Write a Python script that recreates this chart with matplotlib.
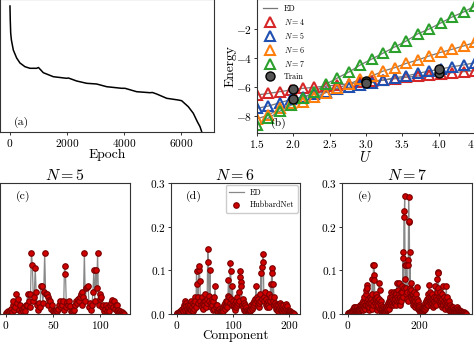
import numpy as np
import matplotlib
matplotlib.use("Agg")
import matplotlib.pyplot as plt

plt.rcParams['font.family'] = ['cmr10', 'DejaVu Serif']
plt.rcParams['mathtext.fontset'] = 'cm'
plt.rcParams['axes.formatter.use_mathtext'] = True
plt.rcParams['axes.unicode_minus'] = True

# ---------------- data ----------------
# (a) training curve
epoch = [0, 10, 25, 50, 117, 234, 351, 526, 702, 936, 1000, 1170, 1521, 1989, 2050,
         2340, 2691, 3042, 3393, 3920, 4036, 4446, 4914, 5000, 5148, 5500, 5907, 6024,
         6258, 6434, 6575, 6669, 6728, 6745]
loss = [1.26, 1.12, 0.99, 0.92, 0.82, 0.74, 0.69, 0.653, 0.637, 0.637, 0.645, 0.593,
        0.553, 0.537, 0.54, 0.51, 0.487, 0.48, 0.453, 0.437, 0.437, 0.403, 0.393, 0.395,
        0.38, 0.337, 0.32, 0.313, 0.253, 0.187, 0.103, 0.053, 0.003, -0.05]

# (b) energies vs U
U = np.linspace(1.5, 4.5, 20)
E4 = [-6.55, -6.44, -6.32, -6.2, -6.09, -6.02, -5.93, -5.86, -5.78, -5.68, -5.59,
      -5.52, -5.43, -5.33, -5.24, -5.17, -5.1, -5.01, -4.94, -4.87]
E5 = [-7.47, -7.31, -7.08, -6.85, -6.67, -6.48, -6.32, -6.16, -6.02, -5.86, -5.7,
      -5.52, -5.36, -5.24, -5.06, -4.9, -4.76, -4.6, -4.48, -4.32]
E6 = [-8.2, -7.93, -7.47, -7.13, -7.01, -6.71, -6.39, -6.09, -5.79, -5.47, -5.24,
      -4.9, -4.67, -4.37, -4.14, -3.86, -3.61, -3.4, -3.17, -2.92]
E7 = [-8.62, -8.14, -7.66, -7.24, -6.76, -6.34, -5.8, -5.38, -4.97, -4.48, -4.07,
      -3.66, -3.24, -2.83, -2.34, -2.0, -1.59, -1.17, -0.83, -0.41]
U_train = [2.0, 3.0, 4.0, 2.0, 3.0, 4.0]
E_train = [-6.16, -5.6, -5.06, -6.85, -5.74, -4.78]

# (c) N=5 wavefunction components
psi5 = [0.002, 0.004, 0.006, 0.003, 0.008, 0.012, 0.005, 0.02, 0.03, 0.01,
        0.015, 0.046, 0.025, 0.035, 0.01, 0.02, 0.005, 0.012, 0.008, 0.015,
        0.006, 0.02, 0.021, 0.046, 0.03, 0.015, 0.045, 0.14, 0.112, 0.03,
        0.04, 0.106, 0.05, 0.02, 0.01, 0.025, 0.015, 0.063, 0.064, 0.025,
        0.05, 0.14, 0.045, 0.045, 0.038, 0.02, 0.032, 0.03, 0.012, 0.02,
        0.008, 0.004, 0.003, 0.01, 0.006, 0.012, 0.02, 0.03, 0.015, 0.02,
        0.03, 0.01, 0.11, 0.092, 0.015, 0.028, 0.02, 0.03, 0.018, 0.008,
        0.004, 0.006, 0.01, 0.02, 0.03, 0.025, 0.035, 0.03, 0.04, 0.045,
        0.02, 0.05, 0.04, 0.14, 0.03, 0.06, 0.062, 0.063, 0.015, 0.025,
        0.01, 0.02, 0.05, 0.1, 0.03, 0.1, 0.06, 0.14, 0.02, 0.035,
        0.045, 0.04, 0.015, 0.02, 0.006, 0.012, 0.02, 0.008, 0.015, 0.006,
        0.02, 0.025, 0.033, 0.015, 0.03, 0.012, 0.02, 0.02, 0.008, 0.01,
        0.005, 0.006, 0.003, 0.004, 0.002, 0.001]

# (d) N=6 wavefunction components
psi6 = [0.001, 0.002, 0.003, 0.002, 0.004, 0.006, 0.003, 0.008, 0.005, 0.01,
        0.012, 0.008, 0.02, 0.015, 0.03, 0.01, 0.025, 0.018, 0.012, 0.02,
        0.008, 0.015, 0.005, 0.012, 0.02, 0.01, 0.03, 0.015, 0.008, 0.025,
        0.02, 0.012, 0.04, 0.03, 0.015, 0.098, 0.068, 0.04, 0.025, 0.1,
        0.11, 0.076, 0.03, 0.02, 0.04, 0.015, 0.025, 0.012, 0.03, 0.02,
        0.045, 0.03, 0.015, 0.025, 0.035, 0.148, 0.12, 0.041, 0.03, 0.1,
        0.025, 0.015, 0.035, 0.02, 0.01, 0.03, 0.012, 0.04, 0.065, 0.02,
        0.015, 0.008, 0.02, 0.01, 0.005, 0.012, 0.004, 0.008, 0.003, 0.006,
        0.01, 0.005, 0.015, 0.008, 0.02, 0.012, 0.025, 0.03, 0.018, 0.015,
        0.03, 0.042, 0.077, 0.04, 0.025, 0.116, 0.098, 0.035, 0.02, 0.063,
        0.03, 0.015, 0.02, 0.01, 0.025, 0.015, 0.03, 0.02, 0.04, 0.025,
        0.05, 0.03, 0.098, 0.085, 0.074, 0.064, 0.02, 0.035, 0.015, 0.025,
        0.01, 0.02, 0.008, 0.015, 0.005, 0.01, 0.004, 0.006, 0.008, 0.003,
        0.006, 0.01, 0.015, 0.02, 0.012, 0.025, 0.015, 0.03, 0.02, 0.035,
        0.025, 0.065, 0.03, 0.04, 0.02, 0.035, 0.015, 0.025, 0.03, 0.045,
        0.093, 0.035, 0.107, 0.118, 0.137, 0.04, 0.03, 0.05, 0.02, 0.035,
        0.015, 0.025, 0.03, 0.02, 0.045, 0.015, 0.03, 0.068, 0.04, 0.105,
        0.093, 0.03, 0.068, 0.04, 0.02, 0.025, 0.012, 0.02, 0.01, 0.015,
        0.008, 0.02, 0.012, 0.025, 0.015, 0.01, 0.02, 0.008, 0.015, 0.012,
        0.02, 0.01, 0.015, 0.008, 0.022, 0.012, 0.018, 0.008, 0.01, 0.005,
        0.008, 0.004, 0.006, 0.003, 0.005, 0.002, 0.003, 0.002, 0.001, 0.001]

# (e) N=7 wavefunction components
psi7 = [0.001, 0.002, 0.001, 0.003, 0.002, 0.004, 0.003, 0.002, 0.005, 0.004,
        0.006, 0.008, 0.005, 0.01, 0.012, 0.008, 0.015, 0.01, 0.012, 0.014,
        0.01, 0.015, 0.012, 0.008, 0.016, 0.01, 0.006, 0.012, 0.009, 0.005,
        0.008, 0.012, 0.006, 0.01, 0.015, 0.02, 0.012, 0.018, 0.025, 0.015,
        0.012, 0.02, 0.01, 0.03, 0.015, 0.025, 0.04, 0.012, 0.02, 0.045,
        0.02, 0.055, 0.067, 0.06, 0.03, 0.015, 0.035, 0.02, 0.025, 0.01,
        0.015, 0.03, 0.04, 0.02, 0.035, 0.025, 0.012, 0.045, 0.08, 0.03,
        0.02, 0.113, 0.09, 0.113, 0.077, 0.035, 0.025, 0.045, 0.02, 0.035,
        0.025, 0.01, 0.04, 0.03, 0.015, 0.02, 0.035, 0.07, 0.055, 0.025,
        0.012, 0.03, 0.02, 0.008, 0.015, 0.006, 0.012, 0.005, 0.01, 0.004,
        0.008, 0.003, 0.006, 0.01, 0.005, 0.012, 0.008, 0.015, 0.01, 0.02,
        0.012, 0.025, 0.015, 0.03, 0.02, 0.012, 0.035, 0.025, 0.04, 0.02,
        0.05, 0.03, 0.045, 0.025, 0.04, 0.02, 0.035, 0.025, 0.05, 0.03,
        0.04, 0.025, 0.035, 0.05, 0.02, 0.045, 0.07, 0.04, 0.03, 0.055,
        0.035, 0.07, 0.03, 0.045, 0.025, 0.04, 0.02, 0.035, 0.05, 0.03,
        0.05, 0.065, 0.04, 0.128, 0.143, 0.06, 0.236, 0.221, 0.27, 0.113,
        0.08, 0.045, 0.113, 0.06, 0.035, 0.05, 0.03, 0.124, 0.113, 0.268,
        0.21, 0.212, 0.06, 0.143, 0.05, 0.07, 0.04, 0.055, 0.035, 0.045,
        0.02, 0.045, 0.03, 0.05, 0.025, 0.035, 0.015, 0.04, 0.03, 0.02,
        0.045, 0.025, 0.062, 0.035, 0.02, 0.03, 0.012, 0.02, 0.01, 0.015,
        0.006, 0.012, 0.005, 0.01, 0.006, 0.004, 0.008, 0.005, 0.01, 0.006,
        0.012, 0.01, 0.015, 0.012, 0.02, 0.012, 0.025, 0.015, 0.03, 0.02,
        0.035, 0.025, 0.045, 0.03, 0.02, 0.067, 0.035, 0.04, 0.025, 0.05,
        0.03, 0.04, 0.02, 0.035, 0.025, 0.045, 0.03, 0.015, 0.035, 0.02,
        0.04, 0.03, 0.065, 0.025, 0.035, 0.02, 0.04, 0.08, 0.05, 0.035,
        0.096, 0.06, 0.093, 0.04, 0.03, 0.05, 0.025, 0.035, 0.02, 0.04,
        0.03, 0.015, 0.045, 0.035, 0.065, 0.025, 0.02, 0.04, 0.03, 0.015,
        0.025, 0.012, 0.035, 0.02, 0.065, 0.03, 0.04, 0.02, 0.012, 0.025,
        0.015, 0.03, 0.01, 0.02, 0.012, 0.006, 0.015, 0.01, 0.012, 0.005,
        0.012, 0.006, 0.01, 0.015, 0.008, 0.012, 0.005, 0.01, 0.008, 0.012,
        0.006, 0.01, 0.004, 0.008, 0.012, 0.015, 0.01, 0.012, 0.008, 0.006,
        0.01, 0.004, 0.008, 0.005, 0.003, 0.006, 0.004, 0.002, 0.003, 0.005,
        0.002, 0.003, 0.001, 0.002, 0.004, 0.002, 0.001, 0.002, 0.001, 0.001]

titles = ["$N=5$", "$N=6$", "$N=7$"]
panel_labels = ["(a)", "(b)", "(c)", "(d)", "(e)"]

# ---------------- figure ----------------
W, H = 474, 344
fig = plt.figure(figsize=(W / 100, H / 100), dpi=100)


def box(x0, y0, x1, y1):
    return [x0 / W, 1 - y1 / H, (x1 - x0) / W, (y1 - y0) / H]


SPINE = '#333333'
TICK_FS = 8.2


def style(ax):
    for s in ax.spines.values():
        s.set_color(SPINE)
        s.set_linewidth(0.8)
    ax.tick_params(labelsize=TICK_FS, length=2.5, width=0.7, color=SPINE, pad=1.0)


# (a)
axa = fig.add_axes(box(0, -1, 214, 132))
axa.plot(epoch, loss, color='black', lw=1.1)
axa.set_xlim(-350, 7160)
axa.set_ylim(0, 1.33)
axa.set_xticks([0, 2000, 4000, 6000])
axa.set_yticks([])
axa.set_xlabel("Epoch", fontsize=9.8)
axa.xaxis.set_label_coords(0.5, -0.13)
style(axa)
axa.text(0.1, 0.07, panel_labels[0], transform=axa.transAxes, fontsize=8.5,
         ha='center', va='center')

# (b)
axb = fig.add_axes(box(257, -1, 475, 133))
colors = ['#d62728', '#1f4fb0', '#ff7f0e', '#2ca02c']
Es = [E4, E5, E6, E7]
for k, E in enumerate(Es):
    axb.plot(U, E, color='#777777', lw=0.9, zorder=1,
             label='ED' if k == 0 else None)
for k, E in enumerate(Es):
    axb.plot(U, E, ls='none', marker='^', ms=6.5, mfc='none', mec=colors[k],
             mew=1.5, zorder=2, label=f"$N={k + 4}$")
axb.plot(U_train, E_train, ls='none', marker='o', ms=6.5, mfc='#555555',
         mec='black', mew=1.0, zorder=3, label='Train')
axb.set_xlim(1.5, 4.5)
axb.set_ylim(-9.17, 0.07)
axb.set_xticks([1.5, 2.0, 2.5, 3.0, 3.5, 4.0, 4.5])
axb.set_yticks([-8, -6, -4, -2])
axb.set_xlabel("$U$", fontsize=10.5)
axb.xaxis.set_label_coords(0.5, -0.13)
axb.set_ylabel("Energy", fontsize=9.8)
axb.yaxis.set_label_coords(-0.095, 0.5)
style(axb)
axb.text(0.1, 0.07, panel_labels[1], transform=axb.transAxes, fontsize=8.5,
         ha='center', va='center')
axb.legend(loc='upper left', fontsize=5.8, frameon=False, handlelength=1.8,
           borderaxespad=0.3, labelspacing=0.45, handletextpad=0.8)

# (c), (d), (e)
psis = [psi5, psi6, psi7]
boxes = [box(0, 183, 130, 314), box(171, 183, 300, 314), box(342, 183, 472, 314)]
for k, (psi, bx) in enumerate(zip(psis, boxes)):
    ax = fig.add_axes(bx)
    idx = np.arange(len(psi))
    ax.plot(idx, psi, color='#888888', lw=0.9, zorder=1, label='ED')
    ax.plot(idx, psi, ls='none', marker='o', ms=4, mfc='#d00000',
            mec='#7a0000', mew=0.8, zorder=2, label='HubbardNet')
    ax.set_ylim(0, 0.3)
    ax.set_yticks([0.0, 0.1, 0.2, 0.3])
    ax.set_title(titles[k], fontsize=11.5, pad=1.5)
    style(ax)
    ax.text(0.18, 0.9, panel_labels[k + 2], transform=ax.transAxes,
            fontsize=8.5, ha='center', va='center')
    if k == 0:
        ax.set_xticks([0, 50, 100])
        ax.tick_params(labelleft=False)
    elif k == 1:
        ax.set_xticks([0, 100, 200])
        ax.set_xlabel("Component", fontsize=9.5)
        ax.xaxis.set_label_coords(0.5, -0.12)
        ax.legend(loc='upper right', fontsize=5.8, handlelength=1.8,
                  borderaxespad=0.3, framealpha=1, edgecolor='#cccccc')
    else:
        ax.set_xticks([0, 200])

fig.savefig("out.png", dpi=100)
